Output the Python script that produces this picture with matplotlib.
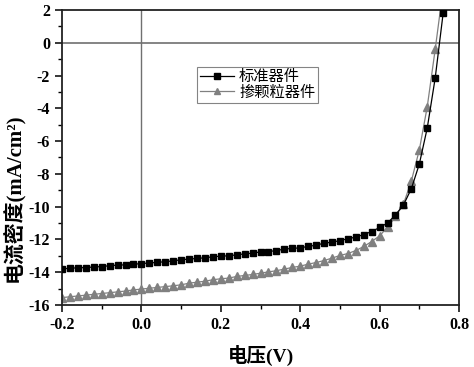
import matplotlib
matplotlib.use("Agg")
import matplotlib.pyplot as plt
from matplotlib.ticker import MultipleLocator

voltage = [-0.20, -0.18, -0.16, -0.14, -0.12, -0.10, -0.08, -0.06, -0.04, -0.02,
           0.00, 0.02, 0.04, 0.06, 0.08, 0.10, 0.12, 0.14, 0.16, 0.18,
           0.20, 0.22, 0.24, 0.26, 0.28, 0.30, 0.32, 0.34, 0.36, 0.38,
           0.40, 0.42, 0.44, 0.46, 0.48, 0.50, 0.52, 0.54, 0.56, 0.58,
           0.60, 0.62, 0.64, 0.66, 0.68, 0.70, 0.72, 0.74, 0.76]

standard = [-13.80, -13.76, -13.73, -13.72, -13.68, -13.66, -13.60, -13.57, -13.55, -13.52,
            -13.47, -13.44, -13.40, -13.36, -13.31, -13.24, -13.20, -13.16, -13.12, -13.06,
            -13.02, -13.00, -12.94, -12.88, -12.84, -12.76, -12.74, -12.68, -12.59, -12.55,
            -12.51, -12.43, -12.35, -12.23, -12.17, -12.07, -11.96, -11.86, -11.70, -11.52,
            -11.27, -11.00, -10.50, -9.90, -8.90, -7.40, -5.20, -2.15, 1.80]

doped = [-15.55, -15.50, -15.45, -15.40, -15.35, -15.30, -15.25, -15.20, -15.15, -15.08,
         -15.03, -14.98, -14.93, -14.88, -14.83, -14.77, -14.67, -14.61, -14.55, -14.46,
         -14.40, -14.36, -14.26, -14.20, -14.14, -14.06, -13.98, -13.91, -13.81, -13.71,
         -13.63, -13.51, -13.41, -13.29, -13.14, -12.98, -12.86, -12.68, -12.43, -12.13,
         -11.78, -11.25, -10.60, -9.85, -8.43, -6.54, -3.90, -0.40, 3.30]

labels = ["标准器件", "掺颗粒器件"]
xticks = [-0.2, 0.0, 0.2, 0.4, 0.6, 0.8]
yticks = [2, 0, -2, -4, -6, -8, -10, -12, -14, -16]

serif = ["Liberation Serif", "Noto Sans CJK SC"]

fig = plt.figure(figsize=(4.74, 3.67), dpi=100)
ax = fig.add_axes([0.1308, 0.169, 0.8376, 0.8038])

ax.axhline(0, color="#707070", lw=1.2, zorder=1)
ax.axvline(0, color="#707070", lw=1.0, zorder=1)

ax.plot(voltage, doped, color="#808080", lw=0.9, marker="^", markersize=5.5,
        markerfacecolor="#808080", markeredgecolor="#808080", label=labels[1], zorder=2)
ax.plot(voltage, standard, color="black", lw=0.9, marker="s", markersize=4.8,
        markerfacecolor="black", markeredgecolor="black", label=labels[0], zorder=3)

ax.set_xlim(-0.2, 0.8)
ax.set_ylim(-16, 2)
ax.set_xticks(xticks)
ax.set_yticks(yticks)
ax.xaxis.set_minor_locator(MultipleLocator(0.1))
ax.yaxis.set_minor_locator(MultipleLocator(1))
ax.tick_params(which="major", direction="out", length=5, width=1.1, top=False, right=False)
ax.tick_params(which="minor", direction="out", length=3, width=1.0, top=False, right=False)
for s in ax.spines.values():
    s.set_linewidth(1.3)
    s.set_color("#222222")

ax.set_xticklabels(["-0.2", "0.0", "0.2", "0.4", "0.6", "0.8"])
ax.set_yticklabels([str(v) for v in yticks])
for t in ax.get_xticklabels() + ax.get_yticklabels():
    t.set_fontfamily(serif)
    t.set_fontweight("bold")
    t.set_fontsize(11.5)

ax.set_xlabel("电压(V)", fontfamily=serif, fontweight="bold", fontsize=14, labelpad=9)
ax.set_ylabel("电流密度(mA/cm²)", fontfamily=serif, fontweight="bold", fontsize=15)
ax.yaxis.set_label_coords(-0.092, 0.363)

handles, labs = ax.get_legend_handles_labels()
leg = ax.legend(handles[::-1], labs[::-1], loc="upper left", bbox_to_anchor=(0.34, 0.807),
                borderaxespad=0, prop={"family": serif, "size": 11}, frameon=True,
                fancybox=False, handlelength=2.2, handletextpad=0.35, labelspacing=0.1,
                borderpad=0.2, markerscale=0.8)
leg.get_frame().set_edgecolor("#666666")
leg.get_frame().set_linewidth(0.8)

fig.savefig("out.png", dpi=100)
